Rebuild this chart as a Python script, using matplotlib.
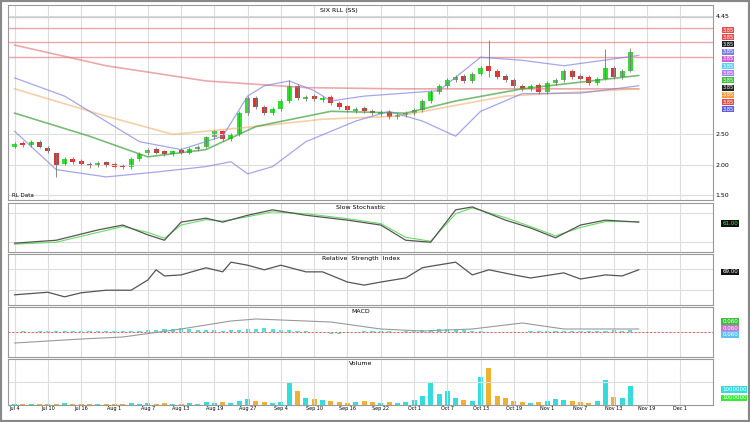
import matplotlib
matplotlib.use("Agg")
import matplotlib.pyplot as plt
import numpy as np

# ── Data ──────────────────────────────────────────────────────────────────────
opens = [2.30, 2.36, 2.33, 2.37, 2.28, 2.20, 2.02, 2.10, 2.06, 2.02, 1.99, 2.04, 2.01, 1.98,
         1.96, 2.10, 2.19, 2.26, 2.22, 2.18, 2.24, 2.20, 2.26, 2.30, 2.45, 2.55, 2.42,
         2.50, 2.85, 3.10, 2.95, 2.85, 2.92, 3.05, 3.30, 3.08, 3.14, 3.06, 3.12,
         3.02, 2.96, 2.88, 2.93, 2.89, 2.83, 2.87, 2.78, 2.82, 2.85, 2.90, 3.05, 3.20, 3.30,
         3.40, 3.46, 3.38, 3.50, 3.62, 3.55, 3.46, 3.40, 3.30, 3.24, 3.32, 3.20,
         3.35, 3.40, 3.55, 3.46, 3.44, 3.35, 3.42, 3.60, 3.45, 3.55]
closes = [2.35, 2.33, 2.37, 2.30, 2.22, 2.00, 2.10, 2.05, 2.02, 1.98, 2.03, 2.00, 1.97, 1.96,
          2.10, 2.18, 2.25, 2.20, 2.18, 2.22, 2.20, 2.26, 2.30, 2.45, 2.55, 2.42, 2.50,
          2.85, 3.10, 2.95, 2.85, 2.92, 3.05, 3.30, 3.10, 3.12, 3.08, 3.10, 3.02,
          2.95, 2.90, 2.92, 2.88, 2.85, 2.87, 2.78, 2.82, 2.85, 2.90, 3.05, 3.20, 3.30, 3.40,
          3.45, 3.38, 3.50, 3.60, 3.55, 3.45, 3.40, 3.30, 3.25, 3.30, 3.20, 3.35,
          3.40, 3.55, 3.45, 3.42, 3.35, 3.42, 3.60, 3.45, 3.55, 3.85]
wick_highs = {5: 2.20, 6: 2.12, 33: 3.40, 57: 4.05, 71: 3.90, 74: 3.92}
wick_lows = {5: 1.80, 57: 3.45}
volume = [3, 2, 3, 2, 3, 2, 4, 2, 3, 2, 3, 2, 2, 3, 4, 3, 5, 3, 4, 3, 3, 4, 3, 6, 5, 7, 4,
          8, 12, 9, 6, 5, 7, 50, 30, 15, 12, 10, 8, 6, 5, 7, 8, 6, 5, 6, 5, 6, 10,
          20, 48, 25, 30, 15, 10, 8, 60, 80, 20, 15, 8, 6, 5, 6, 8, 12, 10, 8, 6, 5, 8,
          55, 18, 15, 42]

# Overlay lines: (bar index, price) anchor points
ma_long = ([0, 11, 23, 35, 46, 75], [3.97, 3.63, 3.38, 3.27, 3.25, 3.25])
ma_mid = ([0, 11, 19, 29, 37, 46, 59, 75], [3.25, 2.80, 2.50, 2.63, 2.75, 2.80, 3.13, 3.25])
ma_short = ([0, 9, 16, 23, 29, 38, 47, 53, 61, 75], [2.85, 2.47, 2.13, 2.25, 2.63, 2.88, 2.85, 3.05, 3.25, 3.47])
bb_upper = ([0, 6, 15, 20, 25, 28, 30, 33, 36, 38, 42, 51, 56, 61, 66, 75],
            [3.43, 3.13, 2.38, 2.25, 2.47, 3.13, 3.30, 3.38, 3.22, 3.05, 3.13, 3.22, 3.77, 3.72, 3.63, 3.80])
bb_lower = ([0, 5, 11, 17, 23, 26, 28, 31, 35, 41, 45, 49, 53, 56, 61, 68, 75],
            [2.55, 1.92, 1.80, 1.88, 1.97, 2.05, 1.85, 1.97, 2.38, 2.72, 2.88, 2.72, 2.47, 2.88, 3.17, 3.18, 3.30])
hlines = [4.25, 4.02, 3.77]
top_line = 4.43

stoch_x = [0, 5, 10, 13, 16, 18, 20, 23, 25, 28, 31, 35, 40, 44, 47, 50, 53, 55, 59, 62, 65, 68, 71, 75]
stoch_k = [18, 24, 45, 55, 35, 24, 61, 69, 61, 75, 86, 75, 65, 55, 24, 20, 86, 92, 65, 49, 29, 55, 65, 61]
stoch_d = [16, 20, 40, 52, 40, 28, 55, 66, 63, 72, 82, 78, 68, 58, 30, 22, 78, 90, 70, 52, 33, 50, 62, 62]
rsi_x = [0, 4, 6, 8, 11, 14, 16, 17, 18, 20, 23, 25, 26, 28, 30, 32, 35, 37, 40, 42, 44, 47, 49, 50,
         53, 55, 57, 60, 62, 66, 68, 71, 73, 75]
rsi = [20, 25, 16, 24, 29, 29, 49, 69, 57, 59, 73, 65, 84, 78, 69, 78, 65, 65, 45, 39, 45, 53, 73, 76,
       84, 59, 69, 59, 53, 63, 51, 59, 57, 69]
macd_x = [0, 8, 13, 20, 26, 29, 35, 38, 44, 49, 55, 61, 66, 75]
macd = [-0.22, -0.14, -0.10, 0.06, 0.22, 0.26, 0.22, 0.20, 0.06, 0.02, 0.06, 0.18, 0.06, 0.06]
macd_hist = [0.01, 0.02, 0.01, 0.02, 0.02, 0.03, 0.02, 0.03, 0.02, 0.02, 0.03, 0.02, 0.03, 0.02, 0.03,
             0.03, 0.04, 0.05, 0.06, 0.07, 0.08, 0.06, 0.05, 0.04, 0.04, 0.03, 0.04, 0.05, 0.06,
             0.07, 0.08, 0.07, 0.05, 0.04, 0.03, 0.02, 0.01, -0.02, -0.03, -0.03, -0.02, 0.01,
             0.02, 0.03, 0.02, 0.02, 0.01, 0.02, 0.03, 0.04, 0.05, 0.06, 0.06, 0.05, 0.04, 0.03,
             0.02, 0.01, -0.01, -0.02, -0.02, 0.01, 0.02, 0.03, 0.02, 0.03, 0.02, 0.02, 0.03,
             0.02, 0.03, 0.03, 0.04, 0.03, 0.04]
date_labels = ["Jul 4", "Jul 10", "Jul 16", "Aug 1", "Aug 7", "Aug 13", "Aug 19", "Aug 27",
               "Sep 4", "Sep 10", "Sep 16", "Sep 22", "Oct 1", "Oct 7", "Oct 13", "Oct 19",
               "Nov 1", "Nov 7", "Nov 13", "Nov 19", "Dec 1"]

# ── Layout ────────────────────────────────────────────────────────────────────
W, H = 750, 422
fig = plt.figure(figsize=(W / 100, H / 100), dpi=100, facecolor="white")
fig.patches.append(plt.Rectangle((0, 0), 1, 1, transform=fig.transFigure,
                                 fill=False, edgecolor="#888888", lw=3))


def panel(top, bottom):
    return fig.add_axes([8 / W, 1 - bottom / H, 705 / W, (bottom - top) / H])


XMAX = (713 - 8) / 8.4
panels = [panel(5, 200), panel(203, 252), panel(254, 305), panel(307, 357), panel(359, 405)]
for ax in panels:
    ax.set_xlim(-0.8, XMAX)
    ax.set_facecolor("white")
    ax.grid(True, color="#dddddd", lw=0.8)
    ax.set_xticks(np.arange(0, 84, 4))
    ax.tick_params(labelbottom=False, length=0, labelleft=False, labelright=True,
                   labelsize=4.5, pad=2)
    for s in ax.spines.values():
        s.set_color("#999999")

idx = np.arange(len(closes))

# ── Price panel ───────────────────────────────────────────────────────────────
ax = panels[0]
ax.set_ylim(1.42, 4.63)
ax.set_yticks([1.5, 2.0, 2.5, 4.45])
ax.set_yticklabels(["1.50", "2.00", "2.50", "4.45"])
ax.axhline(top_line, color="#cccccc", lw=1)
for h in hlines:
    ax.axhline(h, color="#e88080", lw=1, alpha=0.7)
ax.plot(*ma_long, color="#e07070", lw=1.2, alpha=0.6)
ax.plot(*ma_mid, color="#f0b070", lw=1.2, alpha=0.6)
ax.plot(*ma_short, color="#40a040", lw=1.2, alpha=0.7)
ax.plot(*bb_upper, color="#8080e0", lw=0.9, alpha=0.7)
ax.plot(*bb_lower, color="#8080e0", lw=0.9, alpha=0.7)
for i, (o, c) in enumerate(zip(opens, closes)):
    col = "#33dd33" if c >= o else "#dd3333"
    lo, hi = min(o, c), max(o, c)
    ax.vlines(i, wick_lows.get(i, lo - 0.03), wick_highs.get(i, hi + 0.03), color="#777777", lw=0.6)
    ax.bar(i, max(hi - lo, 0.02), bottom=lo, width=0.6, color=col, edgecolor=col, lw=0)
ax.text(0.47, 0.985, "SIX RLL (SS)", transform=ax.transAxes, fontsize=4.5, ha="center", va="top")
ax.text(0.005, 0.01, "RL Data", transform=ax.transAxes, fontsize=4, va="bottom")
side_cols = ["#e05050", "#e05050", "#222222", "#8080e0", "#d060d0", "#60d0f0",
             "#b080f0", "#40c040", "#222222", "#f0a040", "#e05050", "#6060e0"]
for k, col in enumerate(side_cols):
    ax.text(1.013, 1 - (25 + 7.2 * k) / 195, "3.85", transform=ax.transAxes, fontsize=3.6,
            color="white", va="center",
            bbox=dict(boxstyle="square,pad=0.12", fc=col, ec="none"))

# ── Slow stochastic ───────────────────────────────────────────────────────────
ax = panels[1]
ax.set_ylim(0, 100)
ax.set_yticks([20, 80])
ax.set_yticklabels([])
ax.plot(stoch_x, stoch_d, color="#66dd66", lw=0.8)
ax.plot(stoch_x, stoch_k, color="#555555", lw=0.9)
ax.text(0.5, 0.96, "Slow Stochastic", transform=ax.transAxes, fontsize=4.5, ha="center", va="top")
ax.text(1.013, 0.55, "61.00", transform=ax.transAxes, fontsize=4, color="#33ee33",
        bbox=dict(boxstyle="square,pad=0.15", fc="#111111", ec="none"))

# ── RSI ───────────────────────────────────────────────────────────────────────
ax = panels[2]
ax.set_ylim(0, 100)
ax.set_yticks([30, 70])
ax.set_yticklabels([])
ax.plot(rsi_x, rsi, color="#555555", lw=0.9)
ax.text(0.5, 0.96, "Relative  Strength  Index", transform=ax.transAxes, fontsize=4.5, ha="center", va="top")
ax.text(1.013, 0.62, "69.00", transform=ax.transAxes, fontsize=4, color="white",
        bbox=dict(boxstyle="square,pad=0.15", fc="#111111", ec="none"))

# ── MACD ──────────────────────────────────────────────────────────────────────
ax = panels[3]
ax.set_ylim(-0.5, 0.5)
ax.set_yticks([0])
ax.set_yticklabels([])
ax.axhline(0, color="#e06060", lw=0.7, ls=(0, (2, 2)))
ax.bar(idx, macd_hist, width=0.5, color="#55dddd")
ax.plot(macd_x, macd, color="#999999", lw=0.8)
ax.text(0.5, 0.96, "MACD", transform=ax.transAxes, fontsize=4.5, ha="center", va="top")
for k, col in enumerate(["#40c040", "#d070d0", "#60c0f0"]):
    ax.text(1.013, 0.68 - k * 0.13, "0.060", transform=ax.transAxes, fontsize=4, color="white",
            bbox=dict(boxstyle="square,pad=0.15", fc=col, ec="none"))

# ── Volume ────────────────────────────────────────────────────────────────────
ax = panels[4]
ax.set_ylim(0, 100)
ax.set_yticks([0, 50])
ax.set_yticklabels([])
vcols = ["#33dddd" if c >= o else "#f0b030" for o, c in zip(opens, closes)]
ax.bar(idx, volume, width=0.6, color=vcols)
ax.text(0.5, 0.96, "Volume", transform=ax.transAxes, fontsize=4.5, ha="center", va="top")
ax.text(1.013, 0.30, "1000000", transform=ax.transAxes, fontsize=4, color="white",
        bbox=dict(boxstyle="square,pad=0.15", fc="#33dddd", ec="none"))
ax.text(1.013, 0.12, "1000000", transform=ax.transAxes, fontsize=4, color="white",
        bbox=dict(boxstyle="square,pad=0.15", fc="#33ee33", ec="none"))
ax.tick_params(labelbottom=True, labelsize=3.5, pad=1)
ax.set_xticklabels(date_labels)

fig.savefig("out.png", dpi=100, facecolor="white")
